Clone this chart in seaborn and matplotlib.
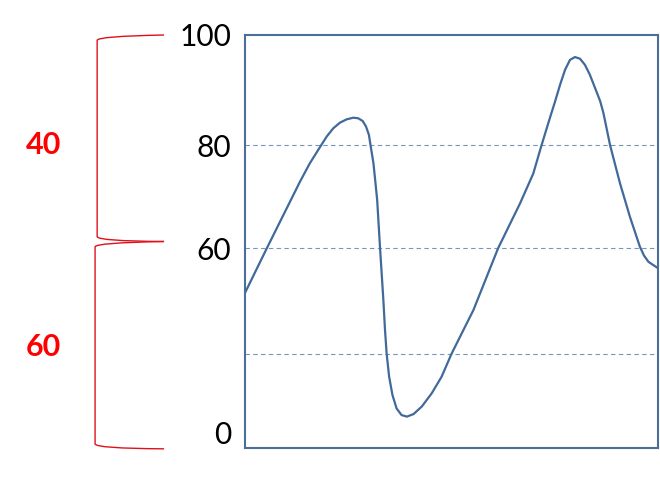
import numpy as np
import matplotlib
matplotlib.use("Agg")
import matplotlib.pyplot as plt
import matplotlib.transforms as mtransforms
from matplotlib.path import Path
from matplotlib.patches import PathPatch
import seaborn as sns

# curve (x in arbitrary units 0..100, y in axis values)
x_vals = [0, 5.3, 13.3, 15.7, 18.2, 19.8, 21.4, 23.0, 24.6, 26.2,
          27.4, 28.5, 29.3, 30.0, 30.4, 31.1, 31.6, 32.0, 32.7, 33.5,
          33.9, 34.3, 34.9, 35.7, 36.7, 37.9, 39.2, 40.8, 42.8, 45.2,
          47.6, 50.0, 52.9, 55.3, 61.3, 66.6, 69.8, 71.8, 73.8, 75.1,
          76.3, 77.5, 78.7, 79.9, 81.1, 82.3, 83.5, 84.7, 86.0, 86.8,
          88.4, 90.8, 93.2, 95.6, 96.6, 97.7, 100]
y_vals = [47.3, 60, 72.9, 76.5, 79.7, 81.6, 83.1, 84.1, 84.7, 85.0,
          84.9, 84.4, 83.4, 81.9, 80.0, 76.5, 72.6, 69.4, 60, 45.3,
          36.8, 30, 22.7, 16.9, 12.6, 10.5, 10.0, 10.8, 13.2, 17.4,
          22.7, 30, 36.8, 42.4, 60, 68.7, 74.5, 80, 84.9, 88.0,
          91.0, 93.7, 95.5, 96.0, 95.7, 94.6, 92.8, 90.5, 88.0, 85.8,
          80, 72.6, 66.1, 60.3, 57.9, 56.1, 54.3]

tick_values = [0, 60, 80, 100]
tick_labels = ["0", "60", "80", "100"]
grid_values = [30, 60, 80]
brace_labels = ["40", "60"]

# the (misleading) axis: top 40 units take as much room as bottom 60
scale_values = [0, 30, 60, 80, 100]
scale_pos = [0, 0.228, 0.484, 0.733, 1.0]


def forward(v):
    return np.interp(v, scale_values, scale_pos)


def inverse(p):
    return np.interp(p, scale_pos, scale_values)


sns.set_style("white")
plt.rcParams["font.family"] = ["Lato", "DejaVu Sans"]

line_color = "#41699a"
red = "#ff0000"

fig = plt.figure(figsize=(6.6, 4.78), dpi=100)
ax = fig.add_axes([245 / 660, 30 / 478, 413 / 660, 413 / 478])
ax.set_yscale("function", functions=(forward, inverse))

for g in grid_values:
    ax.axhline(g, color="#7497bb", lw=0.8, ls=(0, (4, 3)), zorder=1)

sns.lineplot(x=x_vals, y=y_vals, ax=ax, color=line_color, lw=1.6, zorder=3)
for ln in ax.lines[len(grid_values):]:
    ln.set_solid_joinstyle("round")

ax.set_xlim(0, 100)
ax.set_ylim(0, 100)
ax.set_xticks([])
ax.set_yticks(tick_values)
ax.set_yticklabels(tick_labels)
ax.tick_params(axis="y", length=0, pad=10, labelsize=21.5, labelcolor="black")
ax.set_xlabel("")
ax.set_ylabel("")
for s in ax.spines.values():
    s.set_color("#4a6f98")
    s.set_linewidth(1.5)

# nudge the "0" label up a little as in the original
for lab in ax.get_yticklabels():
    if lab.get_text() == "0":
        lab.set_transform(lab.get_transform()
                          + mtransforms.ScaledTranslation(0, 0.15, fig.dpi_scale_trans))

# brackets on the left, in axes fractions
to_frac = ax.transAxes.inverted()
junction = to_frac.transform(ax.transData.transform((0, 60)))[1] + 0.016
x_tip = -0.196


def bracket(y_top, y_bot, x_spine):
    verts = [(x_tip, y_top), (x_spine, y_top - 0.003), (x_spine, y_top - 0.013),
             (x_spine, y_bot + 0.012), (x_spine, y_bot + 0.001), (x_tip, y_bot)]
    codes = [Path.MOVETO, Path.CURVE3, Path.CURVE3,
             Path.LINETO, Path.CURVE3, Path.CURVE3]
    patch = PathPatch(Path(verts, codes), transform=ax.transAxes, fill=False,
                      edgecolor="#e0101a", lw=1.0, clip_on=False)
    ax.add_patch(patch)


bracket(1.0, junction, -0.358)
bracket(junction, -0.002, -0.363)

for lab, yy in zip(brace_labels, [0.733, 0.245]):
    ax.text(-0.487, yy, lab, transform=ax.transAxes, color=red, fontsize=22,
            fontweight="bold", ha="center", va="center")

fig.savefig("out.png", dpi=100)
